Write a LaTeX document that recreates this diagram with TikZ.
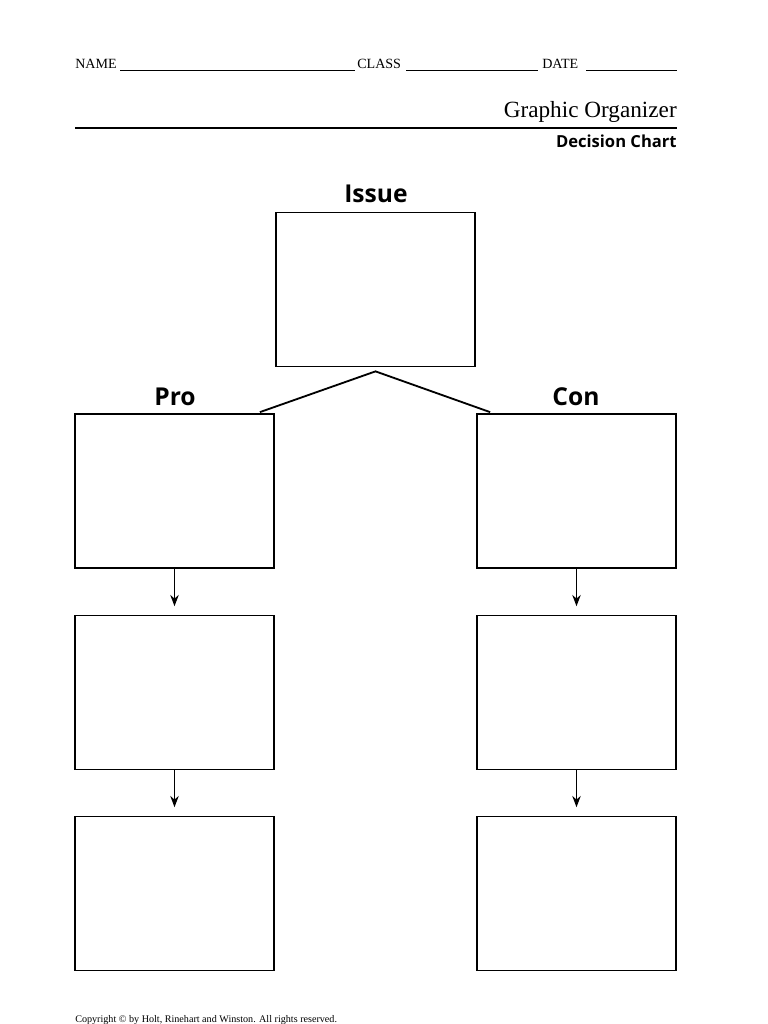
\documentclass[tikz,border=0pt]{standalone}
\usepackage{fontspec}
\setmainfont{Liberation Serif}
\newfontfamily\headfont{Open Sans}
\usetikzlibrary{arrows.meta,positioning,calc}

\tikzset{
  chartbox/.style={draw, line width=1.2pt, minimum width=4.975cm, minimum height=3.85cm, inner sep=0pt},
  boxlabel/.style={font=\headfont\fontsize{17.5}{20}\selectfont\bfseries},
  downarrow/.style={-{Stealth[length=8pt,width=6pt]}, line width=1.1pt, shorten >=6pt},
  blankline/.style={line width=0.6pt}
}

\begin{document}
\begin{tikzpicture}[x=0.025cm,y=-0.025cm]
  \useasboundingbox (0,0) rectangle (768,1024);

  % Header
  \node[anchor=base west, inner sep=0pt, font=\fontsize{10}{12}\selectfont] (name) at (75,69) {NAME};
  \draw[blankline] (120,70) -- (355,70);
  \node[anchor=base west, inner sep=0pt, font=\fontsize{10}{12}\selectfont] (class) at (357,69) {CLASS};
  \draw[blankline] (406,70) -- (538,70);
  \node[anchor=base west, inner sep=0pt, font=\fontsize{10}{12}\selectfont] (date) at (542,69) {DATE};
  \draw[blankline] (586,70) -- (677,70);

  % Title
  \node[anchor=base east, inner sep=0pt, font=\fontsize{16.5}{19}\selectfont] (organizer) at (677,118) {Graphic Organizer};
  \draw[line width=1.5pt] (75,128) -- (677,128);
  \node[anchor=base east, inner sep=0pt, font=\headfont\fontsize{11.8}{14}\selectfont\bfseries] (chart) at (677,148) {Decision Chart};

  % Issue
  \node[chartbox] (issue) at (375.5,289.5) {};
  \node[boxlabel, anchor=base, inner sep=0pt] (issuelabel) at (376,203) {Issue};

  % Pro column
  \node[chartbox] (pro1) at (174.5,491) {};
  \node[chartbox] (pro2) at (174.5,692.5) {};
  \node[chartbox] (pro3) at (174.5,893.5) {};
  \node[boxlabel, anchor=base, inner sep=0pt] (prolabel) at (175,405) {Pro};

  % Con column
  \node[chartbox] (con1) at (576.5,491) {};
  \node[chartbox] (con2) at (576.5,692.5) {};
  \node[chartbox] (con3) at (576.5,893.5) {};
  \node[boxlabel, anchor=base, inner sep=0pt] (conlabel) at (576,405) {Con};

  % Branches
  \coordinate (peak) at ($(issue.south)+(0,4)$);
  \coordinate (proend) at ($(pro1.north east)+(-15,-1)$);
  \coordinate (conend) at ($(con1.north west)+(14,-1)$);
  \draw[line width=1.3pt] (proend) -- (peak) -- (conend);

  % Arrows
  \draw[downarrow] (pro1) -- (pro2);
  \draw[downarrow] (pro2) -- (pro3);
  \draw[downarrow] (con1) -- (con2);
  \draw[downarrow] (con2) -- (con3);

  % Footer
  \node[anchor=base west, inner sep=0pt, font=\fontsize{7.2}{8}\selectfont] (copyright) at (75,1022) {Copyright \textcopyright{} by Holt, Rinehart and Winston. All rights reserved.};
\end{tikzpicture}
\end{document}
